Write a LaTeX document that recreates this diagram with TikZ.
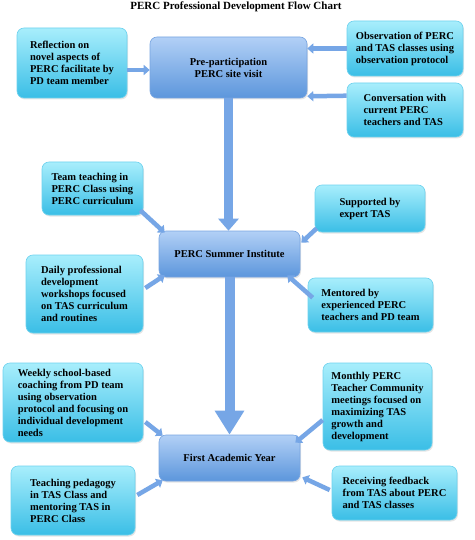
\documentclass[tikz,border=0pt]{standalone}
\usepackage{fontspec}
\setmainfont{Liberation Serif}
\usetikzlibrary{arrows.meta,calc,shadows}
\definecolor{sidetop}{RGB}{168,238,252}
\definecolor{sidebot}{RGB}{58,190,230}
\definecolor{sideline}{RGB}{110,210,238}
\definecolor{stagetop}{RGB}{178,208,246}
\definecolor{stagebot}{RGB}{92,150,220}
\definecolor{stageline}{RGB}{120,165,225}
\definecolor{arrowblue}{RGB}{118,166,230}
\tikzset{
  box/.style={draw=sideline, line width=0.6pt, rounded corners=7pt,
    top color=sidetop, bottom color=sidebot, align=left,
    drop shadow={opacity=0.2, shadow xshift=1pt, shadow yshift=-1.5pt},
    font=\bfseries\fontsize{10.5}{12}\selectfont, inner sep=0pt},
  stage/.style={box, draw=stageline, top color=stagetop, bottom color=stagebot, align=center},
  link/.style={line width=4.5pt, arrowblue, -{Triangle[width=10pt,length=6pt]}},
  flow/.style={line width=9pt, arrowblue, -{Triangle[width=20pt,length=12pt]}}
}
\begin{document}
\begin{tikzpicture}[x=1pt,y=-1pt]
  \fill[white] (0,0) rectangle (474,540);
  \useasboundingbox (0,0) rectangle (474,540);
  \node[font=\bfseries\fontsize{11}{12}\selectfont, inner sep=1pt] (title) at (236,7) {PERC Professional Development Flow Chart};
  % Stage 1 - site visit
  \node[stage, minimum width=157, minimum height=61] (pre) at (228.5,67.5) {Pre-participation\\PERC site visit};
  \node[box, minimum width=110, minimum height=70] (refl) at (72,63) {Reflection on\\novel aspects of\\PERC facilitate by\\PD team member};
  \node[box, minimum width=116, minimum height=55] (obs) at (405,48.5) {Observation of PERC\\and TAS classes using\\observation protocol};
  \node[box, minimum width=116, minimum height=54] (conv) at (405,110) {Conversation with\\current PERC\\teachers and TAS};
  % Stage 2 - summer institute
  \node[stage, minimum width=141, minimum height=46] (summer) at (229.5,254) {PERC Summer Institute};
  \node[box, minimum width=101, minimum height=53] (team) at (92.5,188.5) {Team teaching in\\PERC Class using\\PERC curriculum};
  \node[box, minimum width=110, minimum height=47] (supp) at (370,208.5) {Supported by\\expert TAS};
  \node[box, minimum width=117, minimum height=78] (daily) at (84.5,294) {Daily professional\\development\\workshops focused\\on TAS curriculum\\and routines};
  \node[box, minimum width=125, minimum height=54] (ment) at (370.5,305) {Mentored by\\experienced PERC\\teachers and PD team};
  % Stage 3 - first year
  \node[stage, minimum width=141, minimum height=46] (first) at (229.5,458) {First Academic Year};
  \node[box, minimum width=140, minimum height=79] (weekly) at (73,402.5) {Weekly school-based\\coaching from PD team\\using observation\\protocol and focusing on\\individual development\\needs};
  \node[box, minimum width=109, minimum height=87] (monthly) at (377.5,406.5) {Monthly PERC\\Teacher Community\\meetings focused on\\maximizing TAS\\growth and\\development};
  \node[box, minimum width=124, minimum height=69] (teach) at (73,500.5) {Teaching pedagogy\\in TAS Class and\\mentoring TAS in\\PERC Class};
  \node[box, minimum width=125, minimum height=54] (recv) at (394.5,493) {Receiving feedback\\from TAS about PERC\\and TAS classes};
  % main flow
  \draw[flow] (pre.south) -- (pre.south |- summer.north);
  \draw[flow, line width=10pt, -{Triangle[width=28pt,length=24pt]}] (summer.south) -- (summer.south |- first.north);
  % side arrows
  \draw[link] ($(refl.east)+(0,7)$) -- ($(pre.west)+(0,2.5)$);
  \draw[link] (obs.west) -- (obs.west -| pre.east);
  \draw[link] ($(conv.north west)+(0,13)$) -- ($(pre.south east)+(0,-2)$);
  \draw[link] ($(team.south east)+(-3,-5)$) -- ($(summer.north west)+(6,2)$);
  \draw[link] ($(supp.south west)+(2,-4)$) -- ($(summer.north east)+(1,12)$);
  \draw[link] ($(daily.east)+(2,-6)$) -- ($(summer.south west)+(6,-2)$);
  \draw[link] ($(ment.north west)+(5,20)$) -- ($(summer.south east)+(-13,-2)$);
  \draw[link] ($(weekly.east)+(2,19.5)$) -- ($(first.north west)+(4,1)$);
  \draw[link] ($(teach.east)+(2,-5.5)$) -- ($(first.south west)+(4,-1)$);
  \draw[link] ($(monthly.west)+(0,13.5)$) -- ($(first.north east)+(-5,8)$);
  \draw[link] ($(recv.west)+(-2,-3)$) -- ($(first.south east)+(2,-4)$);
\end{tikzpicture}
\end{document}
